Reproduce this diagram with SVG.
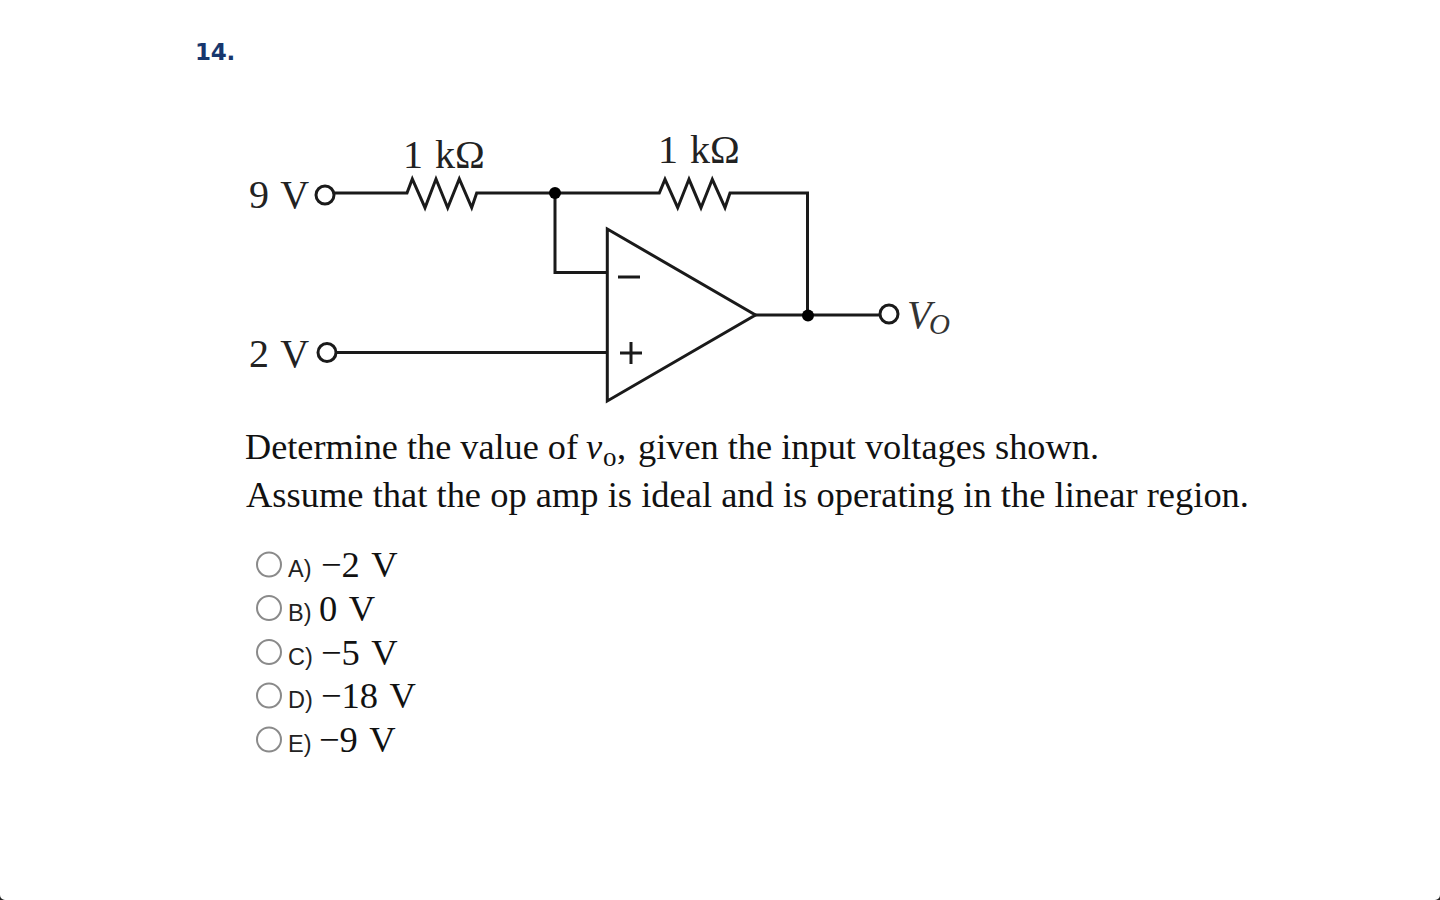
<svg xmlns="http://www.w3.org/2000/svg" width="1440" height="900" viewBox="0 0 1440 900">
<style>
.w{fill:none;stroke:#1a1a1a;stroke-width:3;stroke-linejoin:miter}
.t{fill:none;stroke:#1a1a1a;stroke-width:3}
.d{fill:#000}
.c{font-family:"Liberation Serif",serif;font-size:40px;fill:#222;word-spacing:2px}
.q{font-family:"Liberation Serif",serif;font-size:36.500px;fill:#111}
.o{font-family:"Liberation Serif",serif;font-size:36.500px;fill:#111;word-spacing:3px}
.l{font-family:"Liberation Sans",sans-serif;font-size:23.500px;fill:#222}
.r{fill:#fff;stroke:#8a8a8a;stroke-width:2}
</style>
<rect width="1440" height="900" fill="#fff"/>
<text x="195" y="60" font-family="'DejaVu Sans',sans-serif" font-weight="bold" font-size="23" letter-spacing="-0.3" fill="#17376e">14.</text>
<g id="connectors">
<path class="w" d="M335 193H407L412.3 179L425 207.700L436 179L447.700 207.700L459.300 179L471.700 207.700L476.700 193H555"/>
<path class="w" d="M555 193H659.300L665 179.300L677.700 207.700L689 179.300L701 207.700L712.300 179.300L725 207.700L730 193H807.500V315"/>
<path class="w" d="M555 193V272.500H607"/>
<path class="w" d="M337 352.500H607"/>
<path class="w" d="M755 315H880"/>
</g>
<g id="opamp">
<path class="w" d="M607.300 229L755.500 315L607.300 401Z"/>
<path class="t" d="M618 277H640M620 353H642M631 342V364"/>
</g>
<g id="junction-1"><circle class="d" cx="555" cy="193" r="6"/></g>
<g id="junction-2"><circle class="d" cx="808" cy="315.500" r="6"/></g>
<g id="terminal-9v"><circle class="t" cx="325" cy="195" r="9" fill="#fff"/><text class="c" x="249" y="208">9 V</text></g>
<g id="terminal-2v"><circle class="t" cx="327" cy="352.500" r="9" fill="#fff"/><text class="c" x="249" y="367">2 V</text></g>
<g id="terminal-vo"><circle class="t" cx="889" cy="314" r="9" fill="#fff"/><text x="907" y="328" font-family="'Liberation Serif',serif" font-style="italic" font-size="40" fill="#333">V</text><text x="929" y="334" font-family="'Liberation Serif',serif" font-style="italic" font-size="29" fill="#333">O</text></g>
<g id="r1"><text class="c" x="403" y="168">1 kΩ</text></g>
<g id="r2"><text class="c" x="658" y="163">1 kΩ</text></g>
<text class="q" x="245" y="459" textLength="333" lengthAdjust="spacingAndGlyphs">Determine the value of</text>
<text class="q" x="586" y="459" font-style="italic">v</text>
<text x="603" y="466" font-family="'Liberation Serif',serif" font-size="27" fill="#111">o</text>
<text class="q" x="617" y="459">,</text>
<text class="q" x="638" y="459" textLength="461" lengthAdjust="spacingAndGlyphs">given the input voltages shown.</text>
<text class="q" x="246" y="507" textLength="1003" lengthAdjust="spacingAndGlyphs">Assume that the op amp is ideal and is operating in the linear region.</text>
<g id="option-a"><circle class="r" cx="269" cy="564.500" r="12"/><text class="l" x="288" y="577">A)</text><text class="o" x="321" y="577">−2 V</text></g>
<g id="option-b"><circle class="r" cx="269" cy="608" r="12"/><text class="l" x="288" y="621">B)</text><text class="o" x="319" y="621">0 V</text></g>
<g id="option-c"><circle class="r" cx="269" cy="652" r="12"/><text class="l" x="288" y="665">C)</text><text class="o" x="321" y="665">−5 V</text></g>
<g id="option-d"><circle class="r" cx="269" cy="695.500" r="12"/><text class="l" x="288" y="708">D)</text><text class="o" x="321" y="708">−18 V</text></g>
<g id="option-e"><circle class="r" cx="269" cy="739.500" r="12"/><text class="l" x="288" y="752">E)</text><text class="o" x="319" y="752">−9 V</text></g>
<path d="M0 895A5 5 0 0 0 5 900H0Z" fill="#222"/>
<path d="M1440 895A5 5 0 0 1 1435 900H1440Z" fill="#222"/>
</svg>
